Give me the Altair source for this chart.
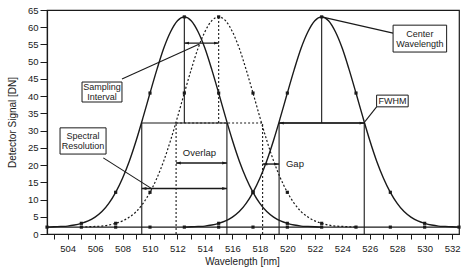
import altair as alt
import pandas as pd

# ---- data ----
centers = [512.5, 515.0, 522.5]
curve_styles = ["solid", "dotted", "solid"]
profile_offsets = [i / 2 for i in range(-20, 21)]
profile_values = [2.0, 2.1, 2.2, 2.3, 2.6, 3.1, 3.8, 4.9, 6.5, 8.9, 12.1, 16.2, 21.2,
                  27.2, 33.9, 40.9, 47.7, 53.9, 58.7, 61.9, 63.0, 61.9, 58.7, 53.9,
                  47.7, 40.9, 33.9, 27.2, 21.2, 16.2, 12.1, 8.9, 6.5, 4.9, 3.8, 3.1,
                  2.6, 2.3, 2.2, 2.1, 2.0]

sample_wl_1 = [505, 507.5, 510, 512.5, 515, 517.5, 520]
sample_wl_2 = [507.5, 510, 512.5, 515, 517.5, 520, 522.5]
sample_wl_3 = [515, 517.5, 520, 522.5, 525, 527.5, 530]
sample_vals = [3.1, 12.1, 40.9, 63.0, 40.9, 12.1, 3.1]
baseline_wl = [502.5, 505, 507.5, 510, 512.5, 515, 517.5, 520, 522.5, 525, 527.5, 530, 532.5]
baseline_val = 2.0

# reference lines (x, x2, y, y2)
solid_seg = [(509.4, 509.4, 0, 32.2), (515.6, 515.6, 0, 32.2), (509.4, 515.6, 32.2, 32.2),
             (512.5, 512.5, 32.2, 63), (519.4, 519.4, 0, 32.2), (525.6, 525.6, 0, 32.2),
             (519.4, 525.6, 32.2, 32.2), (522.5, 522.5, 32.2, 63)]
dotted_seg = [(511.9, 511.9, 0, 32.2), (518.2, 518.2, 0, 32.2), (511.9, 518.2, 32.2, 32.2),
              (515.0, 515.0, 32.2, 63)]
arrows = [(512.5, 515.0, 55.4), (511.9, 515.6, 20.6), (509.4, 515.6, 13.2),
          (518.2, 519.4, 20.3), (519.4, 525.6, 32.2)]
leaders = [(507.96, 513.6, 45.0, 55.1), (506.6, 510.15, 22.1, 13.1),
           (527.7, 522.5, 58.3, 63.0), (526.5, 525.65, 36.9, 32.6)]
box_labels = ["Sampling\nInterval", "Spectral\nResolution", "Center\nWavelength", "FWHM"]
boxes = [(505.05, 507.96, 38.3, 44.1), (503.45, 506.8, 23.2, 30.8),
         (527.7, 531.6, 52.8, 60.6), (526.5, 528.8, 36.9, 40.3)]
plain_labels = ["Overlap", "Gap"]
plain_pos = [(513.6, 23.5, "center"), (519.9, 20.3, "left")]

INK = "#1a1a1a"
FONT = "Liberation Sans"

# ---- tables ----
rows = []
for k, (c, s) in enumerate(zip(centers, curve_styles)):
    for o, v in zip(profile_offsets, profile_values):
        rows.append({"wl": c + o, "sig": v, "curve": k, "style": s})
curves = pd.DataFrame(rows)

pts = pd.DataFrame(
    [{"wl": w, "sig": v} for wl in (sample_wl_1, sample_wl_2, sample_wl_3) for w, v in zip(wl, sample_vals)]
    + [{"wl": w, "sig": baseline_val} for w in baseline_wl]
)
seg_s = pd.DataFrame(solid_seg, columns=["x", "x2", "y", "y2"])
seg_d = pd.DataFrame(dotted_seg, columns=["x", "x2", "y", "y2"])
arr = pd.DataFrame(arrows, columns=["x", "x2", "y"])
lead = pd.DataFrame(leaders, columns=["x", "x2", "y", "y2"])
bx = pd.DataFrame(boxes, columns=["x", "x2", "y", "y2"])
bx["label"] = box_labels
bx["cx"] = (bx["x"] + bx["x2"]) / 2
bx["cy"] = (bx["y"] + bx["y2"]) / 2
bx2 = bx[bx["label"].str.contains("\n")]
bx1 = bx[~bx["label"].str.contains("\n")]
pl = pd.DataFrame(plain_pos, columns=["x", "y", "align"])
pl["label"] = plain_labels

xs = alt.Scale(domain=[502.5, 532.5], nice=False, zero=False)
ys = alt.Scale(domain=[0, 65], nice=False)

xaxis = alt.Axis(values=list(range(503, 533)), title="Wavelength [nm]",
                 labelExpr="datum.value % 2 == 0 ? datum.label : ''", tickSize=5,
                 labelPadding=4, titlePadding=4, titleX=195, grid=False)
yaxis = alt.Axis(values=list(range(0, 66, 5)), title="Detector Signal [DN]", tickSize=7,
                 labelPadding=2, titlePadding=10, grid=False)


def X(f="x"):
    return alt.X(f, type="quantitative", scale=xs, axis=xaxis, title="Wavelength [nm]")


def Y(f="y"):
    return alt.Y(f, type="quantitative", scale=ys, axis=yaxis, title="Detector Signal [DN]")


base_rule = alt.Chart(pd.DataFrame({"x": [502.5], "x2": [532.5], "y": [baseline_val]})).mark_rule(
    color=INK, strokeWidth=1.2).encode(x=X("x"), x2="x2", y=Y("y"))

solid_curves = alt.Chart(curves[curves["style"] == "solid"]).mark_line(
    color=INK, strokeWidth=1.4, interpolate="monotone", clip=True).encode(
    x=X("wl"), y=Y("sig"), detail="curve:N")
dotted_curves = alt.Chart(curves[curves["style"] == "dotted"]).mark_line(
    color=INK, strokeWidth=1.2, strokeDash=[2, 2], interpolate="monotone", clip=True).encode(
    x=X("wl"), y=Y("sig"), detail="curve:N")

seg_solid = alt.Chart(seg_s).mark_rule(color=INK, strokeWidth=1.1).encode(
    x=X("x"), x2="x2", y=Y("y"), y2="y2")
seg_dotted = alt.Chart(seg_d).mark_rule(color=INK, strokeWidth=1.1, strokeDash=[2, 2]).encode(
    x=X("x"), x2="x2", y=Y("y"), y2="y2")

arrow_lines = alt.Chart(arr).mark_rule(color=INK, strokeWidth=1.4).encode(
    x=X("x"), x2="x2", y=Y("y"))
head_r = alt.Chart(arr).mark_point(shape="M0,0 L-2,-0.6 L-2,0.6 Z", filled=True, opacity=1,
                                   color=INK, size=22).encode(x=X("x2"), y=Y("y"))
head_l = alt.Chart(arr).mark_point(shape="M0,0 L2,-0.6 L2,0.6 Z", filled=True, opacity=1,
                                   color=INK, size=22).encode(x=X("x"), y=Y("y"))

points = alt.Chart(pts).mark_square(color=INK, size=10, opacity=1).encode(x=X("wl"), y=Y("sig"))

leader_lines = alt.Chart(lead).mark_rule(color=INK, strokeWidth=1.1).encode(
    x=X("x"), x2="x2", y=Y("y"), y2="y2")
box_rects = alt.Chart(bx).mark_rect(fill="white", stroke=INK, strokeWidth=1).encode(
    x=X("x"), x2="x2", y=Y("y"), y2="y2")
box_text2 = alt.Chart(bx2).mark_text(font=FONT, fontSize=9, color=INK, lineBreak="\n",
                                     lineHeight=10, align="center", baseline="middle", dy=-5).encode(
    x=X("cx"), y=Y("cy"), text="label:N")
box_text1 = alt.Chart(bx1).mark_text(font=FONT, fontSize=9, color=INK,
                                     align="center", baseline="middle").encode(
    x=X("cx"), y=Y("cy"), text="label:N")
plain_c = alt.Chart(pl[pl["align"] == "center"]).mark_text(
    font=FONT, fontSize=9.5, color=INK, align="center", baseline="middle").encode(
    x=X("x"), y=Y("y"), text="label:N")
plain_l = alt.Chart(pl[pl["align"] == "left"]).mark_text(
    font=FONT, fontSize=9.5, color=INK, align="left", baseline="middle").encode(
    x=X("x"), y=Y("y"), text="label:N")

chart = alt.layer(
    base_rule, seg_solid, seg_dotted, solid_curves, dotted_curves, arrow_lines, head_r, head_l,
    points, leader_lines, box_rects, box_text2, box_text1, plain_c, plain_l
).properties(
    width=412, height=224,
    padding={"left": 47, "top": 10, "right": 15, "bottom": 44},
    autosize="none",
).configure_view(stroke=INK, strokeWidth=1.2).configure_axis(
    domainColor=INK, tickColor=INK, labelColor=INK, titleColor=INK,
    labelFont=FONT, titleFont=FONT, labelFontSize=9.5, titleFontSize=10,
    titleFontWeight="normal", domainWidth=1.2, tickWidth=1
)

chart.save("out.html", embed_options={"renderer": "svg", "actions": False})
